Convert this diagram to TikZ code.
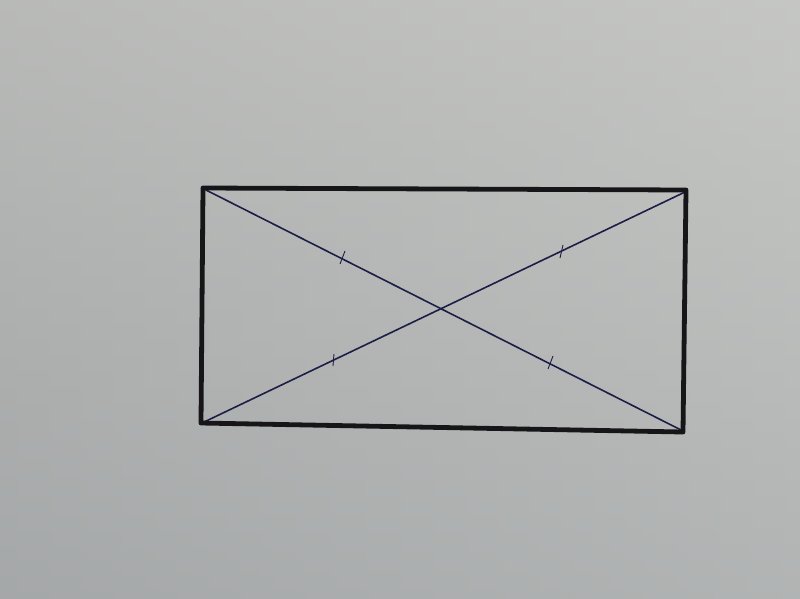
\documentclass[tikz,border=0pt]{standalone}
\begin{document}
\begin{tikzpicture}[x=1pt,y=-1pt,
  frame/.style={line width=4.8pt,draw={rgb,255:red,22;green,22;blue,24},line join=round,line cap=round},
  diag/.style={line width=1.6pt,draw={rgb,255:red,28;green,30;blue,70}},
  tick/.style={line width=0.9pt,draw={rgb,255:red,28;green,30;blue,70}}]
\useasboundingbox (0,0) rectangle (800,598);
\shade[top color={rgb,255:red,200;green,201;blue,197},bottom color={rgb,255:red,160;green,163;blue,165}] (0,0) rectangle (800,598);
\shade[left color={rgb,255:red,170;green,172;blue,172},right color={rgb,255:red,195;green,197;blue,195},opacity=0.5] (0,0) rectangle (800,598);
\coordinate (TL) at (203,188);
\coordinate (TR) at (686,190);
\coordinate (BR) at (683,432);
\coordinate (BL) at (201,423);
\coordinate (TLd) at (206,190);
\coordinate (BRd) at (683,431);
\coordinate (TRd) at (685,192);
\coordinate (BLd) at (202,423);
\draw[diag] (TLd) -- (BRd);
\draw[diag] (TRd) -- (BLd);
\draw[frame] (TL) -- (TR) -- (BR) -- (BL) -- cycle;
\draw[tick] (345,251) -- (340,264);
\draw[tick] (563,245) -- (560,258);
\draw[tick] (334,354) -- (333,366);
\draw[tick] (553,356) -- (548,369);
\end{tikzpicture}
\end{document}
